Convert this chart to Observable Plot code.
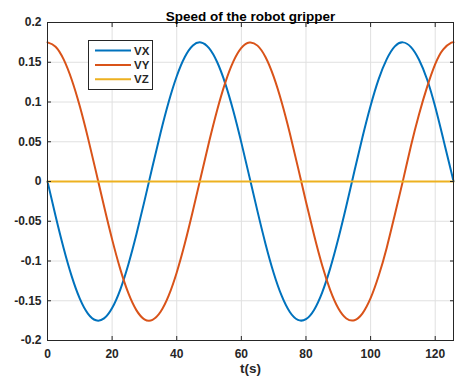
<!DOCTYPE html>
<html><head><meta charset="utf-8">
<script src="https://cdn.jsdelivr.net/npm/d3@7"></script>
<script src="https://cdn.jsdelivr.net/npm/@observablehq/plot@0.6"></script>
<style>
body{margin:0;background:#fff;}
#wrap{position:relative;width:474px;height:383px;}
#legend{position:absolute;left:88px;top:40px;overflow:visible;}
</style></head><body><div id="wrap"></div>
<script>
const title = "Speed of the robot gripper";
const xLabel = "t(s)";
const series = ["VX", "VY", "VZ"];
const colors = ["#0072BD", "#D95319", "#EDB120"];
const xTicks = [0, 20, 40, 60, 80, 100, 120];
const yTicks = [-0.2, -0.15, -0.1, -0.05, 0, 0.05, 0.1, 0.15, 0.2];
const t = [0,2.5,5,7.5,10,12.5,15,17.5,20,22.5,25,27.5,30,32.5,35,37.5,40,42.5,45,47.5,50,52.5,55,57.5,60,62.5,65,67.5,70,72.5,75,77.5,80,82.5,85,87.5,90,92.5,95,97.5,100,102.5,105,107.5,110,112.5,115,117.5,120,122.5,125,125.66];
const vx = [0,-0.0433,-0.0839,-0.1193,-0.1473,-0.1661,-0.1746,-0.1722,-0.1591,-0.1362,-0.1047,-0.0668,-0.0247,0.0189,0.0614,0.1000,0.1324,0.1566,0.1711,0.1749,0.1678,0.1503,0.1235,0.0890,0.0489,0.0058,-0.0376,-0.0788,-0.1150,-0.1440,-0.1642,-0.1741,-0.1731,-0.1615,-0.1397,-0.1093,-0.0721,-0.0305,0.0132,0.0559,0.0952,0.1287,0.1539,0.1700,0.1750,0.1691,0.1532,0.1283,0.0939,0.0533,0.0116,0];
const vy = [0.175,0.1696,0.1536,0.1280,0.0946,0.0552,0.0124,-0.0312,-0.0728,-0.1099,-0.1402,-0.1618,-0.1733,-0.1740,-0.1639,-0.1436,-0.1144,-0.0781,-0.0369,0.0066,0.0496,0.0896,0.1240,0.1507,0.1680,0.1749,0.1709,0.1563,0.1319,0.0994,0.0607,0.0181,-0.0255,-0.0674,-0.1054,-0.1366,-0.1594,-0.1723,-0.1745,-0.1658,-0.1468,-0.1186,-0.0832,-0.0417,0.0008,0.0450,0.0847,0.1190,0.1477,0.1663,0.1746,0.175];
const vz = [0,0,0,0,0,0,0,0,0,0,0,0,0,0,0,0,0,0,0,0,0,0,0,0,0,0,0,0,0,0,0,0,0,0,0,0,0,0,0,0,0,0,0,0,0,0,0,0,0,0,0,0];

const values = [vx, vy, vz];
const rows = [];
series.forEach((s, i) => t.forEach((tt, j) => rows.push({s, t: tt, v: values[i][j]})));

const font = "'Liberation Sans', Arial, Helvetica, sans-serif";
const ink = "#262626";
const blank = () => "";

const chart = Plot.plot({
  width: 474, height: 383,
  marginLeft: 47, marginRight: 21, marginTop: 22, marginBottom: 43,
  style: {fontFamily: font, fontWeight: "bold", fontSize: "12px", color: ink, background: "#fff", overflow: "visible"},
  x: {domain: [0, 125.66], label: null},
  y: {domain: [-0.2, 0.2], label: null},
  color: {domain: series, range: colors},
  marks: [
    Plot.gridX(xTicks, {stroke: "#e0e0e0", strokeOpacity: 1}),
    Plot.gridY(yTicks, {stroke: "#e0e0e0", strokeOpacity: 1}),
    Plot.line(rows, {x: "t", y: "v", z: "s", stroke: "s", strokeWidth: 2, curve: "natural"}),
    Plot.frame({stroke: ink, strokeWidth: 1}),
    Plot.axisX(xTicks, {anchor: "bottom", tickSize: -4, tickPadding: 13, stroke: ink, fill: ink, fontSize: 12, tickFormat: d => String(d), label: null}),
    Plot.axisX(xTicks, {anchor: "top", tickSize: -4, stroke: ink, tickFormat: blank, label: null}),
    Plot.axisY(yTicks, {anchor: "left", tickSize: -4, tickPadding: 10, stroke: ink, fill: ink, fontSize: 12, tickFormat: d => String(+d.toFixed(2)), label: null}),
    Plot.axisY(yTicks, {anchor: "right", tickSize: -4, stroke: ink, tickFormat: blank, label: null}),
    Plot.text([title], {text: d => d, frameAnchor: "top", dy: -11, fontSize: 13.5, fontWeight: "bold", fill: "#000"}),
    Plot.text([xLabel], {text: d => d, frameAnchor: "bottom", dy: 32, fontSize: 13.5, fontWeight: "bold", fill: ink})
  ]
});
const wrap = document.getElementById("wrap");
wrap.appendChild(chart);

// legend
const lg = d3.select(wrap).append("svg").attr("id", "legend").attr("width", 66).attr("height", 51);
lg.append("rect").attr("x", 0.5).attr("y", 0.5).attr("width", 64).attr("height", 49)
  .attr("fill", "#fff").attr("stroke", ink).attr("stroke-width", 1);
series.forEach((s, i) => {
  const y = 10.5 + i * 14.4;
  lg.append("line").attr("x1", 7).attr("x2", 43).attr("y1", y).attr("y2", y)
    .attr("stroke", colors[i]).attr("stroke-width", 2);
  lg.append("text").attr("x", 46).attr("y", y).attr("dy", "0.36em")
    .attr("font-family", font).attr("font-weight", "bold").attr("font-size", 11.5)
    .attr("fill", ink).text(s);
});
</script></body></html>
